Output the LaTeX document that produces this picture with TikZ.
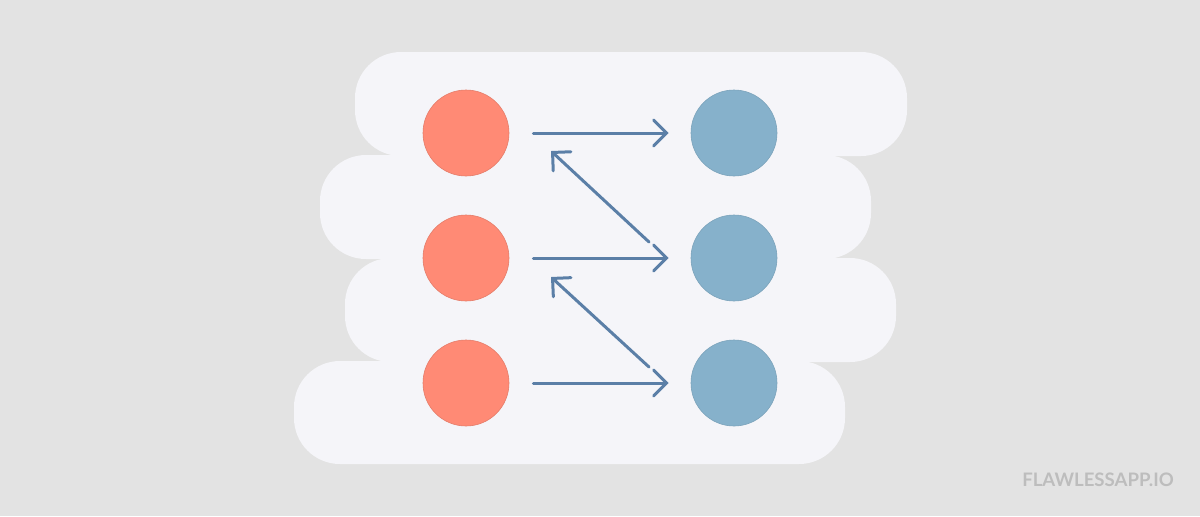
\documentclass[tikz,border=0pt]{standalone}
\usepackage{fontspec}
\setmainfont{Lato}
\usetikzlibrary{arrows.meta}

\definecolor{bggray}{HTML}{E3E3E3}
\definecolor{pillwhite}{HTML}{F5F5F9}
\definecolor{coral}{HTML}{FF8A75}
\definecolor{steel}{HTML}{86B1CB}
\definecolor{arrowblue}{HTML}{5B7FA7}
\definecolor{markgray}{HTML}{BDBDBD}

\begin{document}
\begin{tikzpicture}[x=0.5pt,y=-0.5pt,
    pill/.style={fill=pillwhite,rounded corners=23pt},
    inp/.style={circle,fill=coral,draw=coral!90!black,line width=0.3pt,minimum size=43pt,inner sep=0pt},
    outp/.style={circle,fill=steel,draw=steel!92!black,line width=0.3pt,minimum size=43pt,inner sep=0pt},
    link/.style={draw=arrowblue,line width=1.5pt,line cap=round,-{Straight Barb[length=6.5pt,width=13pt,line cap=round]}}]

    \useasboundingbox (0,0) rectangle (1200,516);
    \fill[bggray] (0,0) rectangle (1200,516);

    % background pills
    \fill[pill] (355,52) rectangle (907,156);
    \fill[pill] (320,155) rectangle (871,259);
    \fill[pill] (345,258) rectangle (896,362);
    \fill[pill] (294,361) rectangle (845,464);

    % neurons
    \node[inp] (r1) at (466,133) {};
    \node[inp] (r2) at (466,258) {};
    \node[inp] (r3) at (466,383) {};
    \node[outp] (b1) at (734,133) {};
    \node[outp] (b2) at (734,258) {};
    \node[outp] (b3) at (734,383) {};

    % forward links
    \draw[link,shorten <=12pt,shorten >=11pt] (r1) -- (b1);
    \draw[link,shorten <=12pt,shorten >=11pt] (r2) -- (b2);
    \draw[link,shorten <=12pt,shorten >=11pt] (r3) -- (b3);

    % backward links
    \coordinate (t1) at (649,242);
    \coordinate (h1) at (551,151);
    \coordinate (t2) at (649,367);
    \coordinate (h2) at (551,277);
    \draw[link] (t1) -- (h1);
    \draw[link] (t2) -- (h2);

    \node[text=markgray,font=\bfseries\fontsize{9.3pt}{11pt}\selectfont] (brand) at (1098,480) {FLAWLESSAPP.IO};

\end{tikzpicture}
\end{document}
